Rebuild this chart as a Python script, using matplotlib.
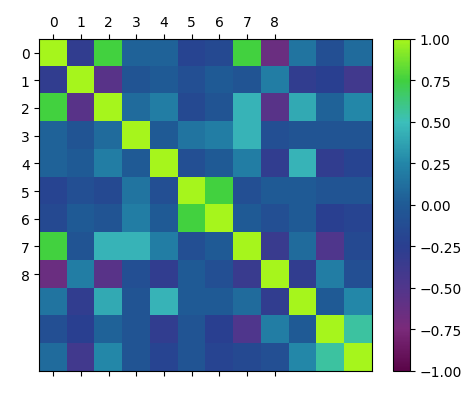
import numpy as np
import matplotlib
matplotlib.use("Agg")
import matplotlib.pyplot as plt
from matplotlib.colors import LinearSegmentedColormap

corr = np.array([
 [1,-0.3,0.75,0.05,0.05,-0.2,-0.15,0.75,-0.65,0.15,-0.1,0.1],
 [-0.3,1,-0.55,-0.05,0,-0.1,0,-0.05,0.2,-0.3,-0.25,-0.4],
 [0.75,-0.55,1,0.1,0.2,-0.15,-0.05,0.45,-0.55,0.4,0.05,0.25],
 [0.05,-0.05,0.1,1,0,0.15,0.2,0.45,-0.1,-0.05,-0.05,-0.05],
 [0.05,0,0.2,0,1,-0.1,0,0.2,-0.3,0.45,-0.3,-0.2],
 [-0.2,-0.1,-0.15,0.15,-0.1,1,0.75,-0.1,0,0,-0.05,-0.05],
 [-0.15,0,-0.05,0.2,0,0.75,1,0,-0.1,0,-0.25,-0.2],
 [0.75,-0.05,0.45,0.45,0.2,-0.1,0,1,-0.35,0.1,-0.5,-0.15],
 [-0.65,0.2,-0.55,-0.1,-0.3,0,-0.1,-0.35,1,-0.3,0.2,-0.1],
 [0.15,-0.3,0.4,-0.05,0.45,0,0,0.1,-0.3,1,0,0.25],
 [-0.1,-0.25,0.05,-0.05,-0.3,-0.05,-0.25,-0.5,0.2,0,1,0.55],
 [0.1,-0.4,0.25,-0.05,-0.2,-0.05,-0.2,-0.15,-0.1,0.25,0.55,1],
])
tick_labels = [str(i) for i in range(9)]

cmap = LinearSegmentedColormap.from_list("c", [
    (0.0, "#5a0548"), (0.125, "#7a2a7a"), (0.25, "#50368c"), (0.375, "#2a3f90"),
    (0.5, "#1f5a95"), (0.625, "#2386a8"), (0.75, "#3cbfbb"), (0.875, "#40d040"),
    (1.0, "#a6f51c")])

fig = plt.figure(figsize=(4.74, 4.06), dpi=100)
ax = fig.add_axes([0.082, 0.084, 0.703, 0.818])
im = ax.matshow(corr, cmap=cmap, vmin=-1, vmax=1)
ax.set_xticks(range(9))
ax.set_xticklabels(tick_labels)
ax.set_yticks(range(9))
ax.set_yticklabels(tick_labels)
cax = fig.add_axes([0.829, 0.084, 0.036, 0.818])
fig.colorbar(im, cax=cax)
fig.savefig("out.png", dpi=100)
